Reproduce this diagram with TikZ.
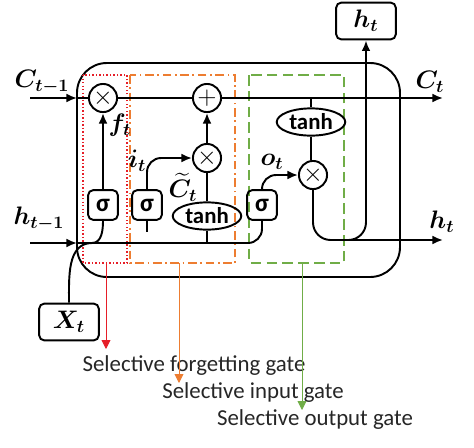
\documentclass[tikz,border=0pt]{standalone}
\usepackage{fontspec}
\usepackage{amsmath}
\usepackage{bm}
\usetikzlibrary{arrows.meta,shapes.geometric}
\newfontfamily\calib{Carlito}

\definecolor{rotgate}{RGB}{230,30,40}
\definecolor{orangegate}{RGB}{237,125,49}
\definecolor{gruengate}{RGB}{112,173,71}

\tikzset{
    linie/.style={line width=1.1pt},
    pfeil/.style={linie,-{Latex[length=6pt,width=5pt]}},
    zeiger/.style={line width=0.5pt,-{Triangle[length=5pt,width=5pt]}},
    knoten/.style={circle,draw,linie,minimum size=16pt,inner sep=0pt,font=\Large},
    sigbox/.style={draw,linie,rounded corners=3pt,minimum size=17pt,inner sep=0pt,font=\calib\bfseries\Large},
    tanhbox/.style={ellipse,draw,linie,minimum width=39pt,minimum height=15.5pt,inner sep=0pt,font=\calib\bfseries\fontsize{13}{14}\selectfont},
    varbox/.style={draw,linie,rounded corners=3pt,minimum width=34pt,minimum height=21pt,inner sep=0pt,font=\Large},
    var/.style={font=\Large,inner sep=0pt},
    gatetext/.style={font=\calib\fontsize{13}{15}\selectfont,text=black!85},
}

\begin{document}
\begin{tikzpicture}[x=0.02cm,y=-0.02cm]
            \useasboundingbox (0,0) rectangle (474,447);

            % Zellrahmen
            \draw[linie,rounded corners=17pt] (77,63) rectangle (400,277);

            % Gatterbereiche
            \draw[rotgate,line width=0.8pt,dash pattern=on 0.8pt off 1.2pt] (83,75) rectangle (127,263);
            \draw[orangegate,line width=0.8pt,dash pattern=on 5pt off 2pt on 1pt off 2pt] (130,75) rectangle (235,263);
            \draw[gruengate,line width=0.8pt,dash pattern=on 6pt off 3pt] (249,75) rectangle (344,263);

            % Operationen
            \node[knoten] (mf) at (103,98) {$\times$};
            \node[knoten] (plus) at (207,98) {$+$};
            \node[knoten] (mi) at (207,158) {$\times$};
            \node[knoten] (mo) at (313,175) {$\times$};
            \node[sigbox] (sf) at (103,205) {σ};
            \node[sigbox] (si) at (147,205) {σ};
            \node[sigbox] (so) at (262,205) {σ};
            \node[tanhbox] (ti) at (207,216) {tanh};
            \node[tanhbox] (to) at (311,122) {tanh};
            \node[varbox] (ht) at (366,21) {$\bm{h_t}$};
            \node[varbox] (xt) at (69,322) {$\bm{X_t}$};

            % Beschriftungen
            \node[var] (lcin) at (42,82) {$\bm{C_{t-1}}$};
            \node[var] (lcout) at (430,82) {$\bm{C_t}$};
            \node[var] (lhin) at (39,219) {$\bm{h_{t-1}}$};
            \node[var] (lhout) at (442,222) {$\bm{h_t}$};
            \node[var] (lf) at (120,125) {$\bm{f_t}$};
            \node[var] (li) at (137,161) {$\bm{i_t}$};
            \node[var] (lo) at (272,162) {$\bm{o_t}$};
            \node[var] (lc) at (183,187) {$\bm{\widetilde{C}_t}$};

            % Hilfspunkte
            \coordinate (cin) at (30,98);
            \coordinate (cl) at (77,98);
            \coordinate (cout) at (443,98);
            \coordinate (cab) at (311,98);
            \coordinate (hin) at (30,243);
            \coordinate (hl) at (77,243);
            \coordinate (hout) at (443,240);
            \coordinate (hab) at (345,240);
            \coordinate (tab) at (207,243);
            \coordinate (istub) at (147,232);
            \coordinate (xjoin) at (92,243);

            % Zellzustand
            \draw[pfeil] (cin) -- (cl);
            \draw[linie] (cl) -- (mf);
            \draw[linie] (mf) -- (plus);
            \draw[pfeil] (plus) -- (cout);

            % Eingang h und x
            \draw[pfeil] (hin) -- (hl);
            \draw[linie,rounded corners=8pt] (hl) -| (so.south);
            \draw[linie] (sf.south) to[out=-90,in=0] (xjoin);
            \draw[linie] (xt.north) to[out=90,in=180] (xjoin);

            % Vergessen und Eingabe
            \draw[pfeil] (sf) -- (mf);
            \draw[pfeil,rounded corners=8pt] (si.north) |- (mi);
            \draw[linie] (si) -- (istub);
            \draw[pfeil] (mi) -- (plus);
            \draw[linie] (ti) -- (mi);
            \draw[linie] (ti) -- (tab);

            % Ausgabe
            \draw[linie] (cab) -- (to);
            \draw[linie] (to) -- (to |- mo.north);
            \draw[pfeil,rounded corners=8pt] (so.north) |- (mo);
            \draw[pfeil,rounded corners=10pt] (mo.south) |- (hout);
            \draw[pfeil,rounded corners=10pt] (hab) -| (ht.south);

            % Zeiger auf die Gatter
            \foreach \xa/\ya/\farbe/\beschr/\tx/\ty [count=\i] in {
                    106/349/rotgate/Selective forgetting gate/194/366,
                    179/383/orangegate/Selective input gate/253/393,
                    302/410/gruengate/Selective output gate/315/420} {
                \coordinate (g\i) at (\xa,263);
                \coordinate (p\i) at (\xa,\ya);
                \node[gatetext] (t\i) at (\tx,\ty) {\beschr};
                \draw[zeiger,\farbe] (g\i) -- (p\i);
            }
        \end{tikzpicture}
\end{document}
